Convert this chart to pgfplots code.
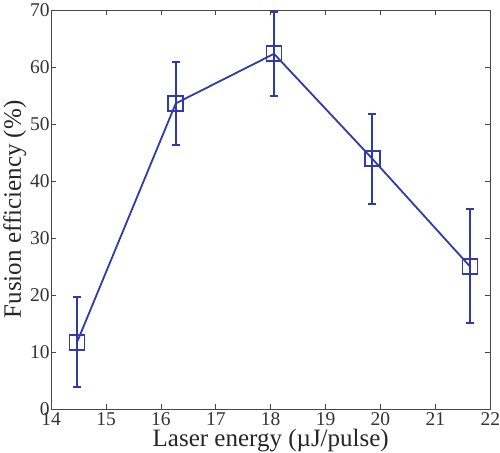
\documentclass[border=0pt]{standalone}
\usepackage{pgfplots}
\pgfplotsset{compat=1.18}
\usepackage{fontspec}
\setmainfont{Liberation Serif}
\definecolor{lineblue}{RGB}{48,58,168}
\definecolor{axgray}{RGB}{70,70,70}
\begin{document}
\begin{tikzpicture}
\begin{axis}[
  scale only axis,
  width=439pt, height=399pt,
  xmin=14, xmax=22, ymin=0, ymax=70,
  xtick={14,15,...,22}, ytick={0,10,...,70},
  tick align=inside,
  major tick length=5pt,
  axis line style={axgray, line width=0.8pt},
  tick style={axgray, line width=0.8pt},
  /pgf/number format/assume math mode=true,
  tick label style={font=\fontsize{19.5}{21}\selectfont, text=black!80},
  label style={font=\fontsize{25}{27}\selectfont, text=black!85},
  xlabel={Laser energy (µJ/pulse)},
  ylabel={Fusion efficiency (\%)},
  xlabel style={at={(axis description cs:0.5,0)}, anchor=base, yshift=-38pt, inner sep=0pt},
  ylabel style={yshift=-3pt},
  xticklabel style={anchor=base, yshift=-17pt, inner sep=0pt},
  yticklabel style={xshift=2pt},
]
\addplot[color=lineblue, line width=1.8pt, mark=square, mark size=7.5pt,
  mark options={line width=1.8pt, fill=none},
  error bars/.cd, y dir=both, y explicit,
  error bar style={line width=2pt, color=lineblue},
  error mark options={rotate=90, mark size=4pt, line width=2pt, color=lineblue}]
coordinates {
  (14.47,11.7) +- (0,7.9)
  (16.27,53.6) +- (0,7.3)
  (18.06,62.3) +- (0,7.4)
  (19.85,43.9) +- (0,7.9)
  (21.63,25.0) +- (0,10.0)
};
\end{axis}
\end{tikzpicture}
\end{document}
